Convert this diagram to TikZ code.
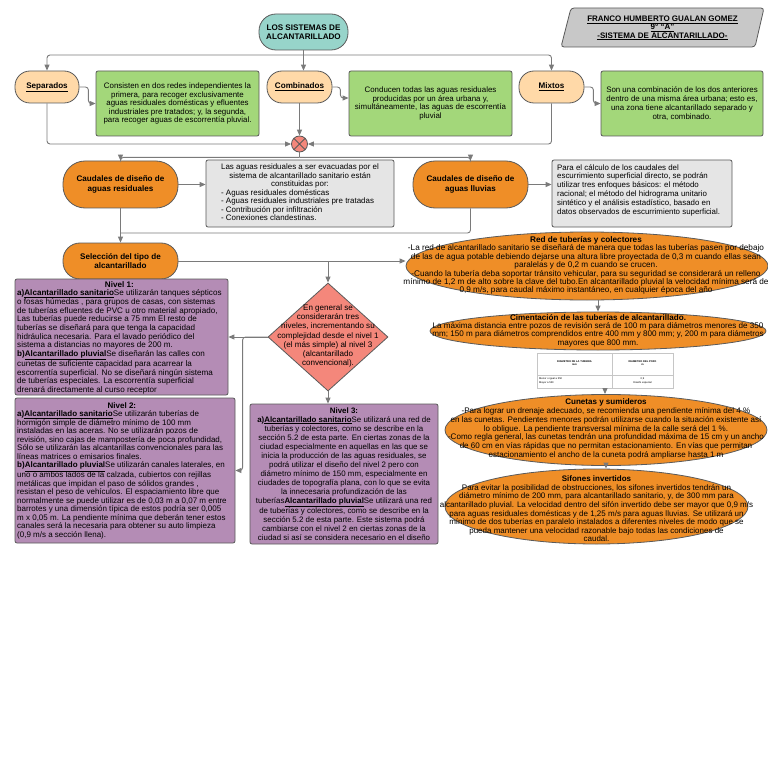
\documentclass[tikz,border=0pt]{standalone}
\usepackage{fontspec}
\setmainfont{Liberation Sans}
\usetikzlibrary{arrows.meta,shapes.geometric,calc}
\definecolor{bordc}{HTML}{5A5A5A}
\definecolor{linec}{HTML}{7A7A7A}
\definecolor{tealc}{HTML}{97D4CA}
\definecolor{peach}{HTML}{FFD9A8}
\definecolor{greenc}{HTML}{A3D77A}
\definecolor{orng}{HTML}{EF8E27}
\definecolor{grayb}{HTML}{E5E5E5}
\definecolor{grayn}{HTML}{C8C8C8}
\definecolor{purp}{HTML}{B48CB5}
\definecolor{salm}{HTML}{F4877B}
\newcommand{\myfs}[2]{\fontsize{#1pt}{#2pt}\selectfont}
\newcommand{\bun}[1]{\textbf{\underline{#1}}}
\newcommand{\mcc}[1]{\multicolumn{1}{@{}c@{}}{#1}}
\begin{document}
\begin{tikzpicture}[x=1pt,y=-1pt,
  shp/.style={draw=bordc,line width=0.8pt,inner sep=0pt},
  pill/.style={shp,rounded corners=#1},
  rbox/.style={shp,rounded corners=2pt},
  arr/.style={draw=linec,line width=0.9pt,rounded corners=3pt,-{Triangle[length=6pt,width=5pt]}},
  ln/.style={draw=linec,line width=0.9pt,rounded corners=3pt},
  txt/.style={inner sep=0pt,align=center},
  ttl/.style={font=\bfseries\myfs{8.1}{9.3},align=center}
]
\useasboundingbox[fill=white] (0,0) rectangle (768,762);

% title
\node[pill=17,fill=tealc,minimum width=89,minimum height=36,ttl] (title) at (303.5,32) {LOS SISTEMAS DE\\ALCANTARILLADO};

% name box
\draw[shp,fill=grayn,rounded corners=3pt] (571,8) -- (764,8) -- (755,47) -- (561,47) -- cycle;
\node[txt,font=\bfseries\myfs{8}{8.3}] (namet) at (662.5,28) {\underline{FRANCO HUMBERTO GUALAN GOMEZ}\\\underline{9° “A”}\\\underline{-SISTEMA DE ALCANTARILLADO-}};

% row 2
\node[pill=15,fill=peach,minimum width=64,minimum height=32,ttl] (sep) at (47,87) {\underline{Separados}};
\node[pill=15,fill=peach,minimum width=65,minimum height=32,ttl] (comb) at (299.5,87) {\underline{Combinados}};
\node[pill=15,fill=peach,minimum width=65,minimum height=32,ttl] (mix) at (551.5,87) {\underline{Mixtos}};

\node[rbox,fill=greenc,minimum width=163,minimum height=65,align=center,font=\myfs{7.9}{8.5}] (g1) at (177.5,103.5) {Consisten en dos redes independientes la\\primera, para recoger exclusivamente\\aguas residuales domésticas y efluentes\\industriales pre tratados; y, la segunda,\\para recoger aguas de escorrentía pluvial.};
\node[rbox,fill=greenc,minimum width=163,minimum height=65,align=center,font=\myfs{7.9}{8.8}] (g2) at (430.5,103.5) {Conducen todas las aguas residuales\\producidas por un área urbana y,\\simultáneamente, las aguas de escorrentía\\pluvial};
\node[rbox,fill=greenc,minimum width=162,minimum height=65,align=center,font=\myfs{7.9}{8.8}] (g3) at (682,103.5) {Son una combinación de los dos anteriores\\dentro de una misma área urbana; esto es,\\una zona tiene alcantarillado separado y\\otra, combinado.};

% circle
\node[shp,circle,fill=salm,minimum size=16] (circ) at (299.5,144) {};
\draw[bordc,line width=0.8pt] (circ.45) -- (circ.225) (circ.135) -- (circ.315);

% row 3
\node[pill=22,fill=orng,minimum width=115,minimum height=47,ttl] (cr) at (120.5,184.5) {Caudales de diseño de\\aguas residuales};
\node[rbox,fill=grayb,minimum width=188,minimum height=67,font=\myfs{7.95}{8.5}] (gb1) at (300,193.5) {\begin{tabular}{@{}l@{}}\mcc{Las aguas residuales a ser evacuadas por el}\\\mcc{sistema de alcantarillado sanitario están}\\\mcc{constituidas por:}\\- Aguas residuales domésticas\\- Aguas residuales industriales pre tratadas\\- Contribución por infiltración\\- Conexiones clandestinas.\end{tabular}};
\node[pill=22,fill=orng,minimum width=115,minimum height=47,ttl] (cl) at (470.5,184.5) {Caudales de diseño de\\aguas lluvias};
\node[rbox,fill=grayb,minimum width=180,minimum height=67] (gb2) at (642,193.5) {};
\node[txt,align=left,anchor=west,font=\myfs{7.9}{8.8}] (gb2t) at (557,190) {Para el cálculo de los caudales del\\escurrimiento superficial directo, se podrán\\utilizar tres enfoques básicos: el método\\racional; el método del hidrograma unitario\\sintético y el análisis estadístico, basado en\\datos observados de escurrimiento superficial.};
\node[pill=17,fill=orng,minimum width=115,minimum height=36,ttl] (sel) at (120.5,261) {Selección del tipo de\\alcantarillado};

% diamond
\node[shp,diamond,fill=salm,minimum width=120,minimum height=108] (dia) at (328,337) {};
\node[txt,font=\myfs{8.05}{9.2}] (diat) at (328,336) {En general se\\considerarán tres\\niveles, incrementando su\\complejidad desde el nivel 1\\(el más simple) al nivel 3\\(alcantarillado\\convencional).};

% niveles
\node[rbox,fill=purp,minimum width=213,minimum height=116] (n1) at (121.5,337) {};
\node[inner sep=0pt,anchor=west,font=\myfs{8.1}{8.7}] (n1t) at (17,338) {\begin{tabular}{@{}l@{}}\mcc{\textbf{Nivel 1:}}\\\textbf{a)}\bun{Alcantarillado sanitario}Se utilizarán tanques sépticos\\o fosas húmedas , para grupos de casas, con sistemas\\de tuberías efluentes de PVC u otro material apropiado,\\Las tuberías puede reducirse a 75 mm El resto de\\tuberías se diseñará para que tenga la capacidad\\hidráulica necesaria. Para el lavado periódico del\\sistema a distancias no mayores de 200 m.\\\textbf{b)}\bun{Alcantarillado pluvial}Se diseñarán las calles con\\cunetas de suficiente capacidad para acarrear la\\escorrentía superficial. No se diseñará ningún sistema\\de tuberías especiales. La escorrentía superficial\\drenará directamente al curso receptor\end{tabular}};

\node[rbox,fill=purp,minimum width=220,minimum height=145] (n2) at (125,470.5) {};
\node[inner sep=0pt,anchor=west,font=\myfs{8}{8.5}] (n2t) at (17,471) {\begin{tabular}{@{}l@{}}\mcc{\textbf{Nivel 2:}}\\\textbf{a)}\bun{Alcantarillado sanitario}Se utilizarán tuberías de\\hormigón simple de diámetro mínimo de 100 mm\\instaladas en las aceras. No se utilizarán pozos de\\revisión, sino cajas de mampostería de poca profundidad,\\Sólo se utilizarán las alcantarillas convencionales para las\\líneas matrices o emisarios finales.\\\textbf{b)}\bun{Alcantarillado pluvial}Se utilizarán canales laterales, en\\uno o ambos lados de la calzada, cubiertos con rejillas\\metálicas que impidan el paso de sólidos grandes ,\\resistan el peso de vehículos. El espaciamiento libre que\\normalmente se puede utilizar es de 0,03 m a 0,07 m entre\\barrotes y una dimensión típica de estos podría ser 0,005\\m x 0,05 m. La pendiente mínima que deberán tener estos\\canales será la necesaria para obtener su auto limpieza\\(0,9 m/s a sección llena).\end{tabular}};

\node[rbox,fill=purp,minimum width=188,minimum height=140,align=center,font=\myfs{7.9}{9}] (n3) at (344,474) {\textbf{Nivel 3:}\\\textbf{a)}\bun{Alcantarillado sanitario}Se utilizará una red de\\tuberías y colectores, como se describe en la\\sección 5.2 de esta parte. En ciertas zonas de la\\ciudad especialmente en aquellas en las que se\\inicia la producción de las aguas residuales, se\\podrá utilizar el diseño del nivel 2 pero con\\diámetro mínimo de 150 mm, especialmente en\\ciudades de topografía plana, con lo que se evita\\la innecesaria profundización de las\\tuberías\bun{Alcantarillado pluvial}Se utilizará una red\\de tuberías y colectores, como se describe en la\\sección 5.2 de esta parte. Este sistema podrá\\cambiarse con el nivel 2 en ciertas zonas de la\\ciudad si así se considera necesario en el diseño};

% right column ellipses
\node[shp,ellipse,fill=orng,minimum width=362,minimum height=68] (red) at (587,266) {};
\node[txt,font=\myfs{8.2}{8.4}] (redt) at (586,265.5) {\textbf{Red de tuberías y colectores}\\-La red de alcantarillado sanitario se diseñará de manera que todas las tuberías pasen por debajo\\de las de agua potable debiendo dejarse una altura libre proyectada de 0,3 m cuando ellas sean\\paralelas y de 0,2 m cuando se crucen.\\-Cuando la tubería deba soportar tránsito vehicular, para su seguridad se considerará un relleno\\mínimo de 1,2 m de alto sobre la clave del tubo.En alcantarillado pluvial la velocidad mínima será de\\0,9 m/s, para caudal máximo instantáneo, en cualquier época del año};

\node[shp,ellipse,fill=orng,minimum width=336,minimum height=38] (cim) at (598,331) {};
\node[txt,font=\myfs{8.1}{8.4}] (cimt) at (598,330.5) {\textbf{Cimentación de las tuberías de alcantarillado.}\\La máxima distancia entre pozos de revisión será de 100 m para diámetros menores de 350\\mm; 150 m para diámetros comprendidos entre 400 mm y 800 mm; y, 200 m para diámetros\\mayores que 800 mm.};

% table
\node[draw=gray!45,line width=0.4pt,fill=white,minimum width=136,minimum height=35,inner sep=0pt] (tab) at (605,370.5) {};
\draw[gray!45,line width=0.4pt] (612,353) -- (612,388) (537,375) -- (673,375);
\node[txt,font=\bfseries\myfs{2.6}{3.4}] (th1) at (574.5,363) {DIAMETRO DE LA TUBERIA\\mm};
\node[txt,font=\bfseries\myfs{2.6}{3.4}] (th2) at (642.5,363) {DIAMETRO DEL POZO\\m};
\node[txt,align=left,anchor=west,font=\myfs{2.6}{3.4}] (tb1) at (539,381) {Menor o igual a 550\\Mayor a 550};
\node[txt,font=\myfs{2.6}{3.4}] (tb2) at (642.5,381) {0,9\\Diseño especial};

\node[shp,ellipse,fill=orng,minimum width=322,minimum height=71] (cun) at (606,430) {};
\node[txt,font=\myfs{8.05}{8.8}] (cunt) at (606,429) {\textbf{Cunetas y sumideros}\\-Para lograr un drenaje adecuado, se recomienda una pendiente mínima del 4 \%\\en las cunetas. Pendientes menores podrán utilizarse cuando la situación existente así\\lo obligue. La pendiente transversal mínima de la calle será del 1 \%.\\-Como regla general, las cunetas tendrán una profundidad máxima de 15 cm y un ancho\\de 60 cm en vías rápidas que no permitan estacionamiento. En vías que permitan\\estacionamiento el ancho de la cuneta podrá ampliarse hasta 1 m};

\node[shp,ellipse,fill=orng,minimum width=303,minimum height=75] (sif) at (596.5,506.5) {};
\node[txt,font=\myfs{8}{8.6}] (sift) at (596.5,509) {\textbf{Sifones invertidos}\\Para evitar la posibilidad de obstrucciones, los sifones invertidos tendrán un\\diámetro mínimo de 200 mm, para alcantarillado sanitario, y, de 300 mm para\\alcantarillado pluvial. La velocidad dentro del sifón invertido debe ser mayor que 0,9 m/s\\para aguas residuales domésticas y de 1,25 m/s para aguas lluvias. Se utilizará un\\mínimo de dos tuberías en paralelo instalados a diferentes niveles de modo que se\\pueda mantener una velocidad razonable bajo todas las condiciones de\\caudal.};

% connectors
\coordinate (j1) at (303.5,55);
\draw[arr] (title.south) -- (title.south |- comb.north);
\draw[arr] (j1) -| (sep.north);
\draw[arr] (j1) -| (mix.north);
\draw[arr] (sep.east) -- ++(9,0) |- (g1.west);
\draw[arr] (comb.east) -- ++(8,0) |- ($(g2.west)+(0,-5.5)$);
\draw[arr] (mix.east) -- ++(9,0) |- (g3.west);
\draw[arr] (sep.south) |- (circ.west);
\draw[arr] (comb.south) -- (circ.north);
\draw[arr] (mix.south) |- (circ.east);
\coordinate (j2) at ($(circ.south)+(0,5)$);
\draw[ln] (circ.south) -- (j2);
\draw[arr] (j2) -| (cr.north);
\draw[arr] (j2) -| (cl.north);
\draw[arr] (cr.east) -- (cr.east -| gb1.west);
\draw[arr] (cl.east) -- (cl.east -| gb2.west);
\draw[arr] (cr.south) -- (sel.north);
\draw[ln] (cl.south) |- (cr.south |- 0,233);
\draw[arr] (sel.east) -- (sel.east -| red.west);
\draw[arr] (dia.north |- sel.east) -- (dia.north);
\draw[arr] (dia.west) -- (n1.east);
\draw[arr] (dia.west) -- ++(-25,0) |- (n2.east);
\draw[arr] (dia.south) -- (dia.south |- n3.north);
\draw[arr] (cim.north |- red.south) -- (cim.north);
\draw[arr] (tab.south) -- (tab.south |- cun.north);
\draw[arr] (cun.south) -- (cun.south |- sif.north);
\end{tikzpicture}
\end{document}
